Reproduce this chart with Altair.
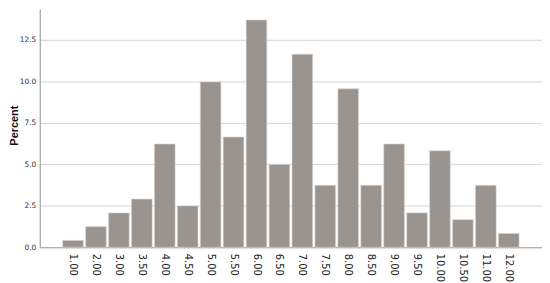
import altair as alt
import pandas as pd

categories = ["1.00", "2.00", "3.00", "3.50", "4.00", "4.50", "5.00", "5.50", "6.00", "6.50",
              "7.00", "7.50", "8.00", "8.50", "9.00", "9.50", "10.00", "10.50", "11.00", "12.00"]
percent = [0.41, 1.24, 2.07, 2.90, 6.22, 2.49, 9.96, 6.64, 13.69, 4.98,
           11.62, 3.73, 9.54, 3.73, 6.22, 2.07, 5.81, 1.66, 3.73, 0.83]

df = pd.DataFrame({"value": categories, "Percent": percent})

chart = alt.Chart(df).mark_bar(
    color="#9a9491", stroke="#d8d5d3", strokeWidth=0.6
).encode(
    x=alt.X("value:N", sort=categories,
            scale=alt.Scale(paddingInner=0.1, paddingOuter=1),
            axis=alt.Axis(title=None, labelAngle=90, labelAlign="left", labelBaseline="middle",
                          labelFontSize=10, labelFont="DejaVu Sans", labelColor="#222222",
                          labelOverlap=False, labelLimit=0,
                          ticks=False, labelPadding=6, domainColor="#a0a0a0", domainWidth=1.2)),
    y=alt.Y("Percent:Q", scale=alt.Scale(domain=[0, 14.35], nice=False),
            axis=alt.Axis(title="Percent", values=[0, 2.5, 5, 7.5, 10, 12.5], format=".1f",
                          titleFont="Liberation Sans", titleFontSize=11, titleFontWeight="bold",
                          titleColor="#111111", titleX=-25, titleY=117, titleAngle=270,
                          titleAlign="center", titleBaseline="middle",
                          labelFont="DejaVu Sans", labelFontSize=7.5, labelColor="#333333",
                          ticks=False, labelPadding=4, domainColor="#a0a0a0", domainWidth=1.2,
                          gridColor="#d4d4d4", gridWidth=1))
).properties(
    width=506, height=240,
    autosize=alt.AutoSizeParams(type="none"),
    padding={"left": 32, "top": 0, "right": 0, "bottom": 35}
).configure_view(stroke=None)

chart.save("out.html", embed_options={"renderer": "svg", "actions": False})
